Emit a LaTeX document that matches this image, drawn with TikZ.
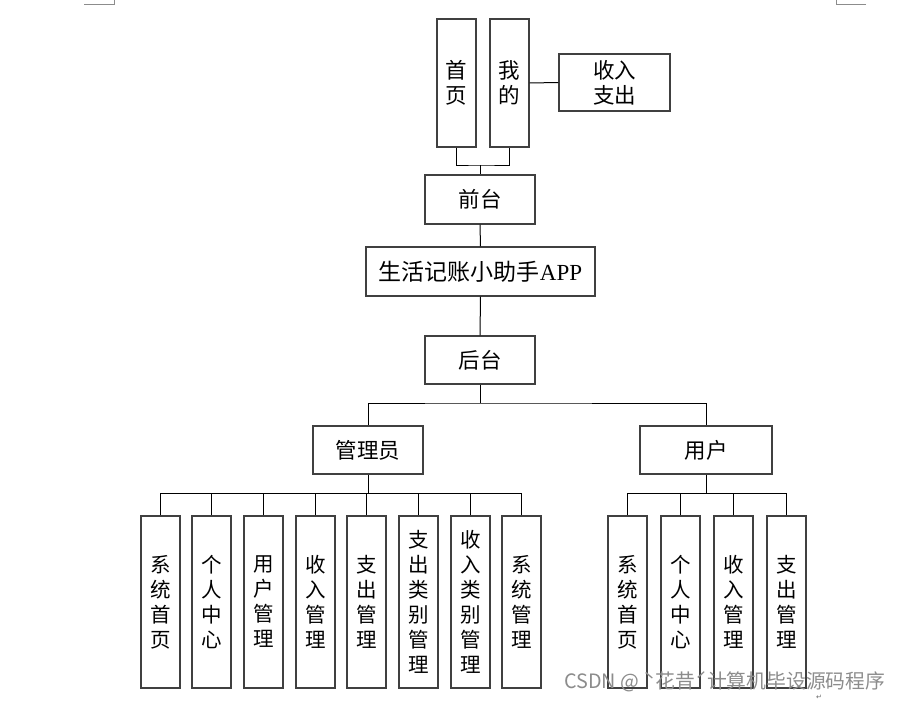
\documentclass[tikz,border=0pt]{standalone}
\usepackage{fontspec}
\setmainfont{Liberation Serif}
\newfontfamily\cjk{Noto Sans CJK SC}
\newfontfamily\dvs{DejaVu Sans}
\begin{document}
\begin{tikzpicture}[x=1pt,y=-1pt,
  box/.style={draw=black!75,line width=1.1pt,fill=white,inner sep=0pt,align=center,
    font=\cjk\fontsize{21.5}{25}\selectfont},
  vbox/.style={box,minimum width=39pt,minimum height=172pt,font=\cjk\fontsize{20.5}{25}\selectfont},
  conn/.style={draw=black,line width=1pt}]
\useasboundingbox (0,0) rectangle (903,701);
% page corner marks
\draw[black!45,line width=0.8pt] (84,4) -- (114,4) -- (114,0);
\draw[black!45,line width=0.8pt] (866,4) -- (836,4) -- (836,0);
% top
\node[box,minimum width=39pt,minimum height=128pt] (sy) at (456.5,83) {首\\页};
\node[box,minimum width=39pt,minimum height=128pt] (wd) at (509.5,83) {我\\的};
\node[box,minimum width=111pt,minimum height=57pt] (szc) at (614.5,82.5) {收入\\支出};
\node[box,minimum width=110pt,minimum height=49pt] (qt) at (480,199.5) {前台};
\node[box,minimum width=229pt,minimum height=49pt,font=\cjk\fontsize{23}{25}\selectfont] (app) at (480.5,271.5) {生活记账小助手{\rmfamily APP}};
\node[box,minimum width=110pt,minimum height=48pt] (ht) at (480,360) {后台};
\node[box,minimum width=110pt,minimum height=48pt] (gly) at (368,450) {管理员};
\node[box,minimum width=132pt,minimum height=48pt] (yh) at (706,450) {用户};
% admin children
\node[vbox] (a1) at (160.5,602) {系\\统\\首\\页};
\node[vbox] (a2) at (211.5,602) {个\\人\\中\\心};
\node[vbox] (a3) at (263.5,602) {用\\户\\管\\理};
\node[vbox] (a4) at (315.5,602) {收\\入\\管\\理};
\node[vbox] (a5) at (366.5,602) {支\\出\\管\\理};
\node[vbox] (a6) at (418.5,602) {支\\出\\类\\别\\管\\理};
\node[vbox] (a7) at (470.5,602) {收\\入\\类\\别\\管\\理};
\node[vbox] (a8) at (521.5,602) {系\\统\\管\\理};
% user children
\node[vbox] (u1) at (627.5,602) {系\\统\\首\\页};
\node[vbox] (u2) at (680.5,602) {个\\人\\中\\心};
\node[vbox] (u3) at (733.5,602) {收\\入\\管\\理};
\node[vbox] (u4) at (786.5,602) {支\\出\\管\\理};
% connectors
\coordinate (j1) at (480,165);
\coordinate (j2) at (480,403);
\coordinate (j3) at (368,493);
\coordinate (j4) at (706,493);
\draw[conn] (wd.east) -- (szc.west);
\draw[conn] (sy.south) |- (j1) -| (wd.south);
\draw[conn] (j1) -- (qt.north);
\draw[conn] (qt.south) -- (app.north);
\draw[conn] (app.south) -- (ht.north);
\draw[conn] (ht.south) -- (j2);
\draw[conn] (gly.north) |- (j2) -| (yh.north);
\draw[conn] (gly.south) -- (j3);
\foreach \n in {a1,a2,a3,a4,a5,a6,a7,a8} \draw[conn] (\n.north) |- (j3);
\draw[conn] (yh.south) -- (j4);
\foreach \n in {u1,u2,u3,u4} \draw[conn] (\n.north) |- (j4);
% watermark
\node[anchor=west,inner sep=0pt,text=black!45,font=\cjk\fontsize{19.8}{21}\selectfont] (wm) at (564,682) {CSDN @ ˋ花昔ˊ计算机毕设源码程序};
\node[inner sep=0pt,text=black!60,font=\dvs\fontsize{7}{8}\selectfont] (pm) at (819,697) {↵};
\end{tikzpicture}
\end{document}
